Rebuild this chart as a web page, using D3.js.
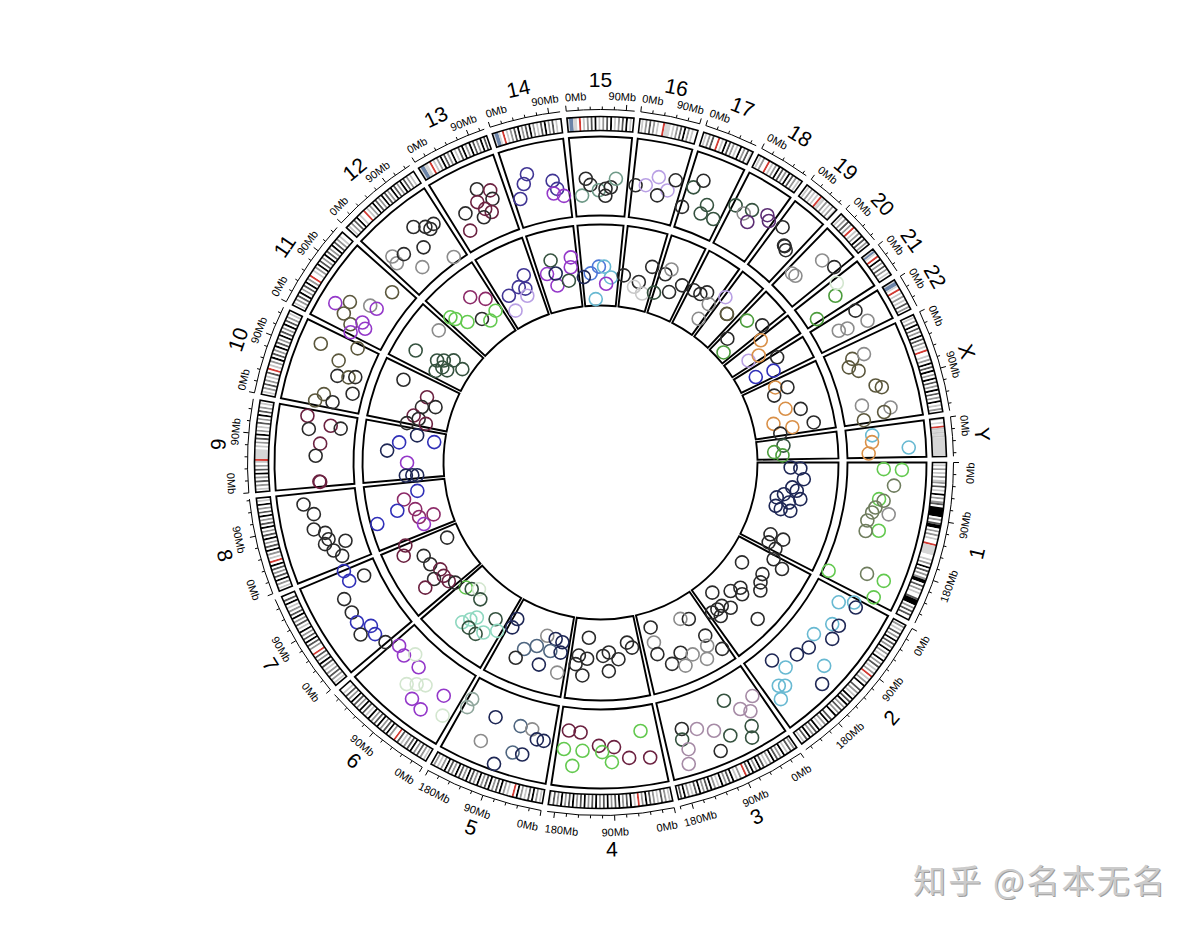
<!doctype html>
<html>
<head>
<meta charset="utf-8">
<title>circos</title>
<script src="https://d3js.org/d3.v7.min.js"></script>
<style>
  body { margin: 0; background: #fff; }
  text { font-family: "Liberation Sans", Arial, Helvetica, sans-serif; }
</style>
</head>
<body>
<script>
// chromosomes (hg19) and their length in Mb
var chromNames = ["1","2","3","4","5","6","7","8","9","10","11","12","13","14","15","16","17","18","19","20","21","22","X","Y"];
var chromLengths = [249.25,243.20,198.02,191.15,180.92,171.12,159.14,146.36,141.21,135.53,135.01,133.85,115.17,107.35,102.53,90.35,81.20,78.08,59.13,63.03,48.13,51.30,155.27,59.37];

// cytoband stains, one character per equal slice of the chromosome
// 0 gneg, 1 gpos25, 2 gpos50, 3 gpos75, 4 gpos100, a acen, v gvar, s stalk
var cytoBands = [
  "0102010201" + "2030104020" + "2304444402" + "0344020201" + "00avvvvv00" + "1020403020" + "2440302010" + "0344402030300",
  "0201030204" + "0302040201" + "0402030102" + "0a01020400" + "3020104030" + "4020302040" + "0304020104" + "03020403010",
  "0203010402" + "0304020103" + "040204030a" + "0020104030" + "2040102040" + "3020403010" + "204030",
  "0102030102" + "0304020a01" + "0403020403" + "0204030204" + "0302040302" + "0403020402" + "0301",
  "0102040301" + "02040a0010" + "2040302040" + "3020402030" + "4020304020" + "3040201020",
  "0102030204" + "030201030a" + "0020403020" + "4030204010" + "3040203040" + "2030100",
  "0102030201" + "030402030a" + "0020304030" + "2040103020" + "4030201040" + "300",
  "0102040302" + "03040a0102" + "0403020403" + "0204030204" + "030204010",
  "0102030204" + "030201avvv" + "vv01020304" + "0201030204" + "0302010",
  "0102030201" + "030a010204" + "0302040302" + "0403020403" + "02010",
  "0102030402" + "0304020a00" + "1020403020" + "4030204030" + "20100",
  "0102030401" + "00a0102040" + "3020403020" + "4030204030" + "20100",
  "vssvv0a" + "0102040302" + "0401030402" + "0403020403" + "0",
  "vssv0a" + "0102030402" + "0304020103" + "0402030100",
  "vssvv0a" + "0102030401" + "0203040102" + "0304010",
  "0102030201" + "00avvv0102" + "0304020100",
  "01020300a0" + "1040302010" + "4020301",
  "010200a010" + "2040302040" + "302010",
  "010201010a" + "v102010201",
  "010203020a" + "01020403020",
  "vsv0a" + "04020302010",
  "vssv0a" + "01020103020",
  "0102040302" + "040302010a" + "0010204030" + "4020403020" + "4030204010" + "20",
  "10v0a1v1v1" + "vvvvvvvvvv"
];
var bandPalette = {"0":"#ffffff","1":"#c8c8c8","2":"#969696","3":"#555555","4":"#000000","a":"#d33a32","v":"#d6d6d6","s":"#6c84a8"};

// axis ticks in Mb
var majorTickMb = 90;
var minorTickMb = 18;

// outer track: [chromosome, position Mb, value 0-1, colour key]
var outerPoints = [
  ["1",12.4,0.46,"g"],["1",12.9,0.69,"g"],["1",41.5,0.60,"h"],["1",69,0.43,"g"],["1",71,0.49,"h"],["1",85.7,0.40,"h"],["1",96,0.37,"h"],["1",94,0.58,"s"],["1",113,0.33,"h"],["1",127,0.50,"g"],["1",133.5,0.34,"h"],["1",234,0.07,"g"],["1",209,0.53,"h"],["1",209,0.76,"g"],["1",242,0.73,"g"],
  ["2",21.7,0.37,"c"],["2",7.8,0.54,"c"],["2",14.3,0.59,"n"],["2",63,0.45,"c"],["2",58.5,0.53,"n"],["2",99,0.34,"c"],["2",85,0.56,"n"],["2",125,0.40,"n"],["2",150,0.35,"n"],["2",194,0.19,"n"],["2",183,0.37,"c"],["2",131,0.70,"c"],["2",215,0.49,"c"],["2",206,0.54,"c"],["2",156,0.84,"n"],["2",227,0.64,"c"],
  ["3",66,0.27,"d"],["3",14,0.40,"x"],["3",46,0.46,"x"],["3",32,0.55,"x"],["3",43.5,0.72,"d"],["3",52.5,0.85,"d"],["3",84,0.70,"d"],["3",110,0.83,"k"],["3",107,0.56,"x"],["3",135,0.46,"x"],["3",162,0.40,"k"],["3",167,0.53,"d"],["3",161,0.67,"x"],["3",168,0.85,"x"],
  ["4",173,0.29,"m"],["4",150,0.30,"m"],["4",178,0.53,"g"],["4",144,0.53,"g"],["4",160,0.73,"g"],["4",114,0.46,"m"],["4",33,0.31,"g"],["4",86,0.48,"m"],["4",60,0.63,"m"],["4",23,0.66,"m"],["4",91,0.67,"g"],["4",108,0.54,"g"],
  ["5",173,0.28,"q"],["5",174,0.40,"q"],["5",117,0.36,"n"],["5",66,0.36,"e"],["5",43,0.36,"s"],["5",30,0.47,"n"],["5",17,0.47,"n"],["5",125,0.71,"s"],["5",66,0.71,"e"],["5",49,0.70,"n"],["5",90,0.92,"n"],
  ["6",160,0.32,"p"],["6",140,0.36,"p"],["6",104,0.34,"p"],["6",126,0.25,"l"],["6",100,0.60,"l"],["6",86,0.52,"l"],["6",72,0.46,"l"],["6",33,0.43,"p"],["6",76,0.70,"p"],["6",53,0.74,"p"],["6",15,0.65,"l"],
  ["7",158,0.40,"b"],["7",137,0.39,"b"],["7",134,0.19,"k"],["7",111,0.55,"k"],["7",83,0.55,"k"],["7",63,0.56,"b"],["7",43,0.44,"b"],["7",41,0.61,"k"],["7",26,0.46,"b"],["7",2,0.42,"k"],
  ["8",127,0.67,"k"],["8",107,0.56,"k"],["8",80,0.60,"k"],["8",69,0.47,"k"],["8",56,0.45,"k"],["8",49,0.51,"k"],["8",33,0.43,"k"],["8",44,0.25,"k"],["8",18,0.35,"k"],
  ["9",9,0.43,"m"],["9",9.8,0.44,"m"],["9",129,0.63,"m"],["9",106,0.59,"k"],["9",81,0.43,"m"],["9",58,0.48,"k"],["9",117,0.32,"m"],["9",114,0.19,"k"],
  ["10",107,0.72,"o"],["10",91,0.43,"o"],["10",127,0.27,"o"],["10",63,0.38,"k"],["10",67,0.24,"o"],["10",72,0.16,"k"],["10",38,0.13,"k"],["10",23,0.48,"o"],["10",8,0.57,"o"],["10",12,0.35,"k"],
  ["11",36,0.79,"p"],["11",51,0.64,"o"],["11",28,0.63,"o"],["11",17,0.49,"o"],["11",66,0.40,"s"],["11",68,0.31,"p"],["11",112,0.28,"o"],["11",31,0.37,"p"],["11",23,0.30,"p"],["11",4,0.44,"p"],
  ["12",81,0.68,"k"],["12",98,0.59,"k"],["12",113,0.56,"k"],["12",103,0.53,"k"],["12",72,0.40,"k"],["12",18,0.58,"s"],["12",15,0.48,"s"],["12",36,0.50,"k"],["12",45,0.22,"s"],["12",108,0.07,"s"],
  ["13",68,0.67,"k"],["13",89,0.59,"m"],["13",87,0.48,"k"],["13",59,0.52,"m"],["13",30,0.46,"k"],["13",67,0.40,"m"],["13",76,0.33,"m"],["13",58,0.31,"k"],["13",22,0.24,"m"],
  ["14",36,0.64,"u"],["14",26,0.53,"u"],["14",12,0.36,"u"],["14",79,0.49,"u"],["14",85,0.38,"u"],["14",77,0.33,"p"],["14",96,0.28,"p"],
  ["15",15,0.26,"t"],["15",24,0.47,"k"],["15",32,0.39,"k"],["15",48,0.32,"t"],["15",61,0.34,"k"],["15",71,0.36,"k"],["15",61,0.25,"k"],["15",80,0.47,"t"],
  ["16",6,0.41,"k"],["16",25,0.43,"v"],["16",46,0.56,"v"],["16",67,0.42,"v"],["16",50,0.33,"k"],["16",77,0.57,"k"],
  ["17",3,0.27,"k"],["17",12,0.55,"d"],["17",25,0.67,"k"],["17",47,0.40,"d"],["17",42,0.27,"d"],["17",69,0.27,"d"],
  ["18",5,0.55,"d"],["18",25,0.51,"s"],["18",35,0.60,"d"],["18",39,0.44,"w"],["18",63,0.65,"w"],["18",71,0.60,"w"],
  ["19",10,0.64,"k"],["19",33,0.47,"k"],["19",34.5,0.47,"k"],["19",41,0.44,"k"],
  ["20",12,0.28,"s"],["20",20,0.29,"s"],["20",33,0.67,"s"],["20",55.6,0.73,"k"],
  ["21",25,0.52,"y"],["21",42,0.16,"y"],["21",8,0.63,"l"],
  ["22",10,0.63,"k"],["22",36,0.70,"s"],["22",31,0.43,"s"],["22",27,0.32,"s"],
  ["X",27,0.32,"o"],["X",27,0.48,"s"],["X",53,0.34,"o"],["X",40,0.24,"o"],["X",89,0.49,"o"],["X",95,0.56,"o"],["X",120,0.26,"s"],["X",134,0.61,"s"],["X",140,0.52,"o"],["X",149,0.25,"o"],
  ["Y",16,0.33,"c"],["Y",29,0.32,"r"],["Y",51,0.27,"r"],["Y",43,0.78,"c"]
];

// inner track: [chromosome, position Mb, value 0-1, colour key]
var innerPoints = [
  ["1",13.8,0.41,"n"],["1",15.7,0.53,"n"],["1",43.3,0.58,"n"],["1",68.2,0.45,"n"],["1",90.3,0.36,"n"],["1",75.5,0.51,"n"],["1",95.8,0.57,"n"],["1",103.2,0.28,"n"],["1",128,0.29,"n"],["1",110.6,0.44,"n"],["1",131.7,0.48,"n"],["1",133.6,0.36,"n"],["1",211,0.34,"k"],["1",211,0.51,"k"],["1",234,0.36,"k"],["1",242,0.47,"k"],
  ["2",10.6,0.51,"k"],["2",21.7,0.66,"k"],["2",66,0.20,"k"],["2",60,0.49,"k"],["2",81,0.53,"k"],["2",98,0.59,"k"],["2",127,0.38,"k"],["2",137,0.45,"k"],["2",153,0.32,"k"],["2",196,0.18,"k"],["2",200,0.38,"k"],["2",216,0.38,"k"],["2",185,0.47,"k"],["2",233,0.37,"k"],["2",220,0.47,"k"],["2",155,0.80,"k"],
  ["3",162.6,0.19,"k"],["3",166,0.38,"s"],["3",166,0.53,"k"],["3",138,0.70,"k"],["3",108,0.61,"k"],["3",47,0.28,"k"],["3",69,0.23,"s"],["3",109,0.78,"s"],["3",82,0.69,"s"],["3",31,0.56,"k"],["3",40,0.68,"s"],["3",56,0.82,"s"],["3",13,0.81,"k"],
  ["4",104,0.45,"k"],["4",88,0.41,"k"],["4",63,0.50,"k"],["4",90,0.64,"k"],["4",34,0.31,"k"],["4",22,0.38,"k"],["4",146,0.23,"k"],["4",170,0.46,"k"],["4",147,0.49,"k"],["4",176,0.57,"k"],["4",156,0.70,"k"],
  ["5",168.7,0.25,"n"],["5",170,0.37,"n"],["5",116,0.55,"e"],["5",127,0.69,"k"],["5",87,0.46,"e"],["5",68,0.30,"s"],["5",42,0.31,"n"],["5",21,0.33,"n"],["5",48,0.47,"e"],["5",20,0.46,"n"],["5",67,0.67,"n"],["5",18,0.71,"s"],
  ["6",155,0.33,"g"],["6",140,0.29,"d"],["6",124,0.23,"l"],["6",101,0.31,"d"],["6",97,0.67,"z"],["6",86,0.58,"z"],["6",76,0.51,"z"],["6",76,0.67,"d"],["6",53,0.68,"d"],["6",39,0.61,"z"],["6",32,0.39,"d"],["6",11,0.50,"z"],
  ["7",129,0.17,"k"],["7",157,0.68,"m"],["7",136,0.75,"m"],["7",113,0.53,"k"],["7",85,0.51,"k"],["7",59,0.44,"m"],["7",47,0.57,"k"],["7",39,0.45,"m"],["7",19,0.44,"m"],["7",42,0.72,"m"],["7",5,0.39,"k"],
  ["8",120,0.35,"b"],["8",103,0.53,"j"],["8",78,0.64,"b"],["8",71,0.42,"j"],["8",47,0.40,"j"],["8",24,0.37,"p"],["8",42,0.22,"j"],["8",59,0.92,"b"],
  ["9",75,0.70,"n"],["9",98,0.56,"b"],["9",123,0.35,"n"],["9",110,0.13,"b"],["9",45,0.45,"p"],["9",10,0.47,"n"],["9",10,0.39,"n"],["9",9,0.33,"n"],
  ["10",105,0.70,"k"],["10",85,0.35,"m"],["10",54,0.37,"k"],["10",66,0.21,"k"],["10",25,0.44,"m"],["10",19,0.37,"k"],["10",1,0.50,"k"],["10",10,0.27,"m"],
  ["11",38,0.73,"d"],["11",112,0.64,"s"],["11",45,0.44,"d"],["11",55,0.37,"d"],["11",36,0.34,"d"],["11",36,0.27,"d"],["11",18,0.39,"d"],["11",71,0.27,"d"],["11",64,0.12,"d"],
  ["12",83,0.66,"j"],["12",112,0.53,"j"],["12",12,0.64,"g"],["12",18,0.58,"g"],["12",35,0.45,"g"],["12",71,0.36,"k"],["12",87,0.28,"g"],["12",116,0.34,"g"],
  ["13",27,0.41,"u"],["13",62,0.45,"u"],["13",77,0.40,"u"],["13",87,0.56,"u"],["13",23,0.21,"v"],["13",74,0.31,"v"],
  ["14",40,0.63,"d"],["14",22,0.48,"p"],["14",42,0.31,"p"],["14",45,0.46,"n"],["14",92,0.62,"p"],["14",88,0.50,"p"],["14",77,0.34,"d"],
  ["15",24,0.40,"a"],["15",4,0.36,"n"],["15",47,0.48,"a"],["15",36,0.08,"c"],["15",61,0.48,"c"],["15",81,0.35,"c"],["15",68,0.27,"p"],
  ["16",5,0.39,"k"],["16",50,0.34,"k"],["16",39,0.27,"i"],["16",67,0.21,"i"],["16",76,0.56,"k"],
  ["17",1,0.26,"d"],["17",15,0.52,"k"],["17",42,0.33,"k"],["17",26,0.60,"s"],["17",68,0.47,"k"],
  ["18",12,0.48,"k"],["18",32,0.48,"k"],["18",45,0.54,"k"],["18",66,0.43,"s"],["18",66,0.21,"s"],
  ["19",4,0.62,"v"],["19",34,0.47,"o"],["19",35,0.47,"o"],
  ["20",17,0.58,"y"],["20",15,0.25,"k"],["20",38,0.10,"y"],["20",52,0.68,"k"],
  ["21",7,0.55,"r"],["21",33,0.28,"v"],["21",37,0.42,"r"],
  ["22",10,0.60,"k"],["22",28,0.25,"b"],["22",36,0.48,"b"],
  ["X",19,0.41,"r"],["X",31,0.55,"k"],["X",39,0.36,"k"],["X",84,0.44,"r"],["X",95,0.62,"k"],["X",117,0.25,"r"],["X",137,0.47,"r"],["X",135,0.74,"k"],["X",149,0.31,"k"],
  ["Y",20,0.33,"d"],["Y",37,0.21,"y"],["Y",48,0.31,"y"]
];

var pointPalette = {
  g:"#63c94f", h:"#6f7d5e", s:"#8c8c8c", c:"#68b9d2", n:"#1e2755", d:"#35523f", x:"#a68ba6",
  k:"#2a2a2a", m:"#6b2140", q:"#8fa69c", e:"#4f6680", p:"#9438c9", l:"#d3e6cf", b:"#3030b8",
  o:"#5b573c", u:"#403594", t:"#6f9a88", v:"#b9a0e4", w:"#5b2d73", y:"#4c9c3c", r:"#d99048",
  z:"#8fd8c0", j:"#8c2a68", a:"#4d78d8", i:"#c8c8c8"
};

// ---------- layout ----------
var width = 1200, height = 928;
var cx = 600.5, cy = 462.5;
var gapDeg = 1, startDeg = 90;
var rad = Math.PI / 180;

var ideoIn = 332, ideoOut = 346;
var axisR = 353;
var outerY = d3.scaleLinear().domain([0, 1]).range([247, 326]);
var innerY = d3.scaleLinear().domain([0, 1]).range([157, 238]);

var total = d3.sum(chromLengths);
var degPerMb = (360 - gapDeg * chromNames.length) / total;

var sectors = [];
var cur = startDeg;
chromNames.forEach(function(name, i) {
    var len = chromLengths[i];
    var s = cur, e = cur + len * degPerMb;
    sectors.push({
        name: name,
        len: len,
        bands: cytoBands[i],
        start: s * rad,
        end: e * rad,
        x: d3.scaleLinear().domain([0, len]).range([s * rad, e * rad])
    });
    cur = e + gapDeg;
});
var sectorByName = {};
sectors.forEach(function(s) { sectorByName[s.name] = s; });

var svg = d3.select("body")
    .append("svg")
    .attr("width", width)
    .attr("height", height);

var g = svg.append("g").attr("transform", "translate(" + cx + "," + cy + ")");
var arc = d3.arc();

// ---------- ideogram ----------
var ideo = g.append("g");
sectors.forEach(function(sec) {
    var chars = sec.bands;
    var w = sec.len / chars.length;
    // merge runs of the same stain
    var runs = [];
    for (var i = 0; i < chars.length; i++) {
        var c = chars[i];
        if (runs.length && runs[runs.length - 1].c == c) {
            runs[runs.length - 1].e = (i + 1) * w;
        } else {
            runs.push({c: c, s: i * w, e: (i + 1) * w});
        }
    }
    ideo.selectAll(null)
        .data(runs)
        .enter()
        .append("path")
        .attr("d", function(d) {
            return arc({innerRadius: ideoIn, outerRadius: ideoOut,
                        startAngle: sec.x(d.s), endAngle: sec.x(d.e)});
        })
        .style("fill", function(d) { return bandPalette[d.c]; })
        .style("stroke", "none");
    ideo.append("path")
        .attr("d", arc({innerRadius: ideoIn, outerRadius: ideoOut,
                        startAngle: sec.start, endAngle: sec.end}))
        .style("fill", "none")
        .style("stroke", "#000")
        .style("stroke-width", 1.6);
});

// ---------- text placement along the circle ----------
function orient(t, ang, rUp, rLow, size) {
    var deg = ang / rad;
    if (Math.cos(ang) > 1e-6) {
        t.attr("transform", "rotate(" + deg + ") translate(0," + (-rUp) + ")");
    } else {
        t.attr("transform", "rotate(" + (deg - 180) + ") translate(0," + (rLow + 0.716 * size) + ")");
    }
}

// ---------- axis with ticks ----------
var axis = g.append("g");
sectors.forEach(function(sec) {
    var p = d3.path();
    p.arc(0, 0, axisR, sec.start - Math.PI / 2, sec.end - Math.PI / 2);
    axis.append("path")
        .attr("d", p.toString())
        .style("fill", "none")
        .style("stroke", "#000")
        .style("stroke-width", 1);

    var ticks = d3.range(0, sec.len + 0.001, minorTickMb);
    axis.selectAll(null)
        .data(ticks)
        .enter()
        .append("line")
        .attr("x1", function(d) { return d3.pointRadial(sec.x(d), axisR)[0]; })
        .attr("y1", function(d) { return d3.pointRadial(sec.x(d), axisR)[1]; })
        .attr("x2", function(d) { return d3.pointRadial(sec.x(d), d % majorTickMb == 0 ? axisR + 5.5 : axisR + 3)[0]; })
        .attr("y2", function(d) { return d3.pointRadial(sec.x(d), d % majorTickMb == 0 ? axisR + 5.5 : axisR + 3)[1]; })
        .style("stroke", "#000")
        .style("stroke-width", 1);

    var majors = d3.range(0, sec.len + 0.001, majorTickMb);
    majors.forEach(function(mb) {
        var size = 11;
        var t = axis.append("text")
            .attr("font-size", size)
            .attr("text-anchor", "middle")
            .style("fill", "#000")
            .text(mb + "Mb");
        var half = t.node().getComputedTextLength() / 2 / 366;
        var a = sec.x(mb);
        a = Math.max(sec.start + half, Math.min(sec.end - half, a));
        orient(t, a, 362.5, 365.8, size);
    });
});

// chromosome names
sectors.forEach(function(sec) {
    var size = 21;
    var t = g.append("text")
        .attr("font-size", size)
        .attr("text-anchor", "middle")
        .style("fill", "#000")
        .text(sec.name);
    orient(t, (sec.start + sec.end) / 2, 375.5, 379.2, size);
});

// ---------- tracks ----------
function drawTrack(yScale, points) {
    var tg = g.append("g");
    var r0 = yScale.range()[0], r1 = yScale.range()[1];
    tg.selectAll(null)
        .data(sectors)
        .enter()
        .append("path")
        .attr("d", function(sec) {
            return arc({innerRadius: r0, outerRadius: r1, startAngle: sec.start, endAngle: sec.end});
        })
        .style("fill", "none")
        .style("stroke", "#000")
        .style("stroke-width", 1.9);
    tg.selectAll("circle")
        .data(points)
        .enter()
        .append("circle")
        .attr("cx", function(d) { return d3.pointRadial(sectorByName[d[0]].x(d[1]), yScale(d[2]))[0]; })
        .attr("cy", function(d) { return d3.pointRadial(sectorByName[d[0]].x(d[1]), yScale(d[2]))[1]; })
        .attr("r", 6.5)
        .style("fill", "none")
        .style("stroke", function(d) { return pointPalette[d[3]]; })
        .style("stroke-width", 1.6);
}
drawTrack(outerY, outerPoints);
drawTrack(innerY, innerPoints);

// watermark (embossed grey)
var mark = "知乎 @名本无名";
svg.append("text")
    .attr("x", 914)
    .attr("y", 894)
    .attr("font-size", 33)
    .attr("textLength", 252)
    .style("font-family", "'Noto Sans CJK SC', sans-serif")
    .style("fill", "#9e9e9e")
    .text(mark);
svg.append("text")
    .attr("x", 913)
    .attr("y", 893)
    .attr("font-size", 33)
    .attr("textLength", 252)
    .style("font-family", "'Noto Sans CJK SC', sans-serif")
    .style("fill", "#cbcbcb")
    .text(mark);
</script>
</body>
</html>
